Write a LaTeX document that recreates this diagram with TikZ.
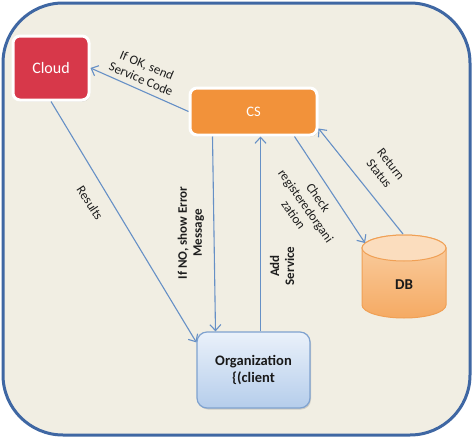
\documentclass[tikz,border=0pt]{standalone}
\usepackage{fontspec}
\setmainfont{Carlito}
\usetikzlibrary{arrows.meta,calc,shadows}
\definecolor{frameblue}{HTML}{3F67A3}
\definecolor{bg}{HTML}{F1EEE3}
\definecolor{cloudred}{HTML}{D7384A}
\definecolor{csorange}{HTML}{F2923A}
\definecolor{linkblue}{HTML}{6690C6}
\definecolor{orgborder}{HTML}{7FA2CF}
\definecolor{orgtop}{HTML}{EAF1FA}
\definecolor{orgbot}{HTML}{B5CDEB}
\definecolor{dbborder}{HTML}{F0A055}
\definecolor{dbtopc}{HTML}{FBDDBE}
\definecolor{dbup}{HTML}{FAD0A5}
\definecolor{dbdown}{HTML}{F5AA63}
\definecolor{labtext}{HTML}{1E1E1E}
\tikzset{
  box/.style={rounded corners=7pt, draw=white, line width=3pt,
    drop shadow={shadow xshift=1pt, shadow yshift=-1.5pt, opacity=0.3}},
  link/.style={draw=linkblue, line width=1.1pt, -{Straight Barb[length=6pt,width=11pt]}},
  lab/.style={text=labtext, align=center, font=\fontsize{13}{15}\selectfont, inner sep=0pt},
  labbold/.style={text=labtext, align=center, font=\fontsize{13}{15}\selectfont\bfseries, inner sep=0pt}
}
\begin{document}
\begin{tikzpicture}[x=1pt,y=-1pt]
\useasboundingbox (0,0) rectangle (474,439);
\fill[white] (0,0) rectangle (474,439);
\draw[frameblue, line width=3pt, fill=bg, rounded corners=60pt] (3,3) rectangle (470,435);

\node[box, fill=cloudred, minimum width=76pt, minimum height=64pt, text=white,
  font=\fontsize{16}{18}\selectfont] (cloud) at (51,68) {Cloud};
\node[box, fill=csorange, minimum width=127pt, minimum height=47pt, text=white,
  font=\fontsize{14.5}{16}\selectfont] (cs) at (253.5,111.5) {CS};
\node[rounded corners=10pt, draw=orgborder, line width=1.2pt, top color=orgtop, bottom color=orgbot,
  minimum width=113pt, minimum height=76pt, align=center, text=black!90,
  font=\fontsize{14.5}{17}\selectfont\bfseries,
  drop shadow={shadow xshift=1pt, shadow yshift=-1.5pt, opacity=0.3}] (org) at (253.5,370) {Organization\\{\{(client}};

% DB cylinder
\path[top color=dbup, bottom color=dbdown, draw=dbborder, line width=1pt]
  (362,248) -- (362,305) arc[start angle=180,end angle=360,x radius=42pt,y radius=13pt]
  -- (446,248) arc[start angle=0,end angle=180,x radius=42pt,y radius=13pt] -- cycle;
\draw[fill=dbtopc, draw=dbborder, line width=1pt] (404,248) ellipse[x radius=42pt,y radius=13pt];
\node[font=\fontsize{15}{17}\selectfont\bfseries, text=black!90] (db) at (404,285) {DB};
\coordinate (dbtopleft) at (365,243);
\coordinate (dbtop) at (403,234);

% connectors
\draw[link] (cs.west) -- (cloud.east);
\draw[link] (cloud.south) -- ($(org.north west)+(0,11)$);
\draw[link] ([xshift=-41pt]cs.south) -- ([xshift=-38pt]org.north);
\draw[link] ([xshift=7pt]org.north) -- ([xshift=7pt]cs.south);
\draw[link] ([xshift=41pt]cs.south) -- (dbtopleft);
\draw[link] (dbtop) -- ([yshift=8pt]cs.south east);

% labels
\node[lab, rotate=-23] (l1) at (144,72) {If OK, send\\Service Code};
\node[lab, rotate=-57] (l2) at (90,203) {Results};
\node[labbold, rotate=90] (l3) at (191,233) {If NO, show Error\\Message};
\node[labbold, rotate=90] (l4) at (282,266) {Add\\Service};
\node[lab, rotate=-55] (l5) at (306,206) {Check\\registeredorgani\\zation};
\node[lab, rotate=-52] (l6) at (385,169) {Return\\Status};
\end{tikzpicture}
\end{document}
